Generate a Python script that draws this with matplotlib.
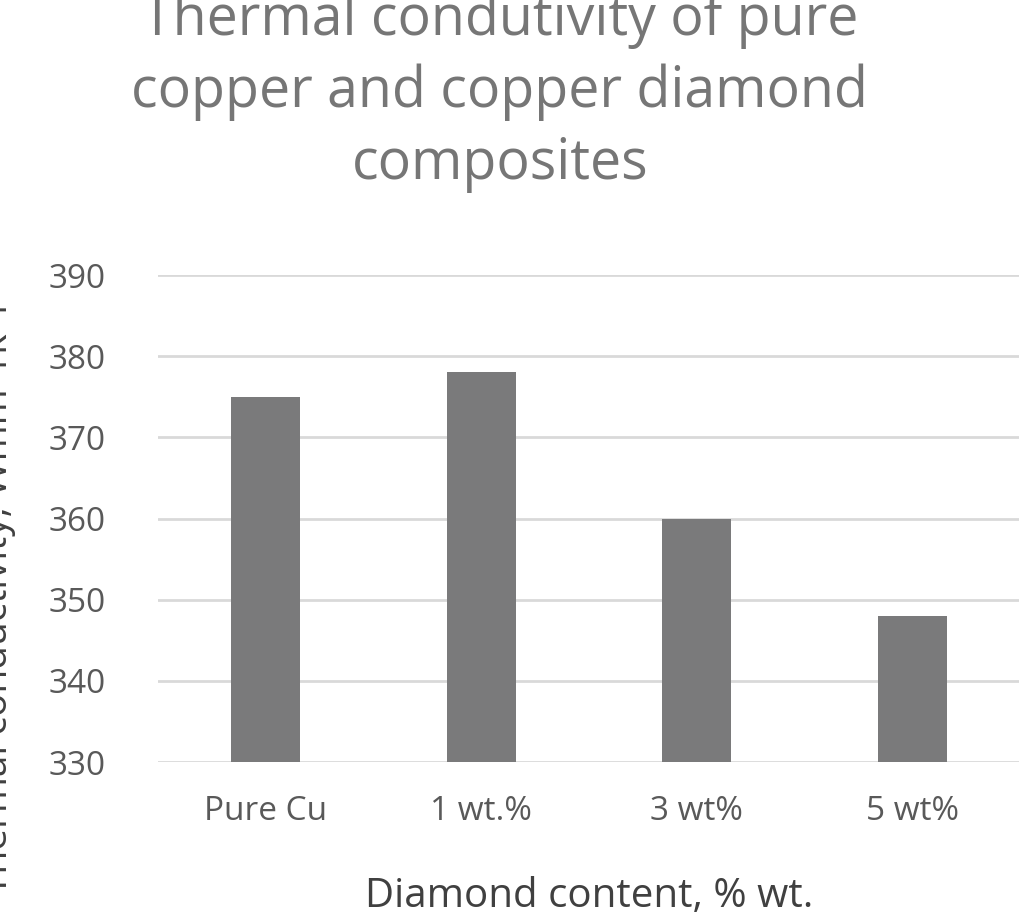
import matplotlib
matplotlib.use("Agg")
import matplotlib.pyplot as plt

categories = ["Pure Cu", "1 wt.%", "3 wt%", "5 wt%"]
values = [375, 378, 360, 348]
yticks = [330, 340, 350, 360, 370, 380, 390]

plt.rcParams['font.family'] = ['Open Sans', 'DejaVu Sans']
fig = plt.figure(figsize=(10.2, 9.17), dpi=100)
ax = fig.add_axes([0.155, 0.169, 0.845, 0.531])
x = range(len(categories))
ax.bar(x, values, width=0.32, color="#7a7a7b", zorder=3)
ax.set_xlim(-0.5, 3.5)
ax.set_ylim(330, 390)
ax.set_yticks(yticks)
ax.set_xticks(list(x))
ax.set_xticklabels(categories)
ax.grid(axis='y', color="#d9d9d9", linewidth=2, zorder=0)
for s in ax.spines.values():
    s.set_visible(False)
ax.tick_params(length=0, labelsize=24, colors="#595959")
ax.tick_params(axis='x', pad=24)
ax.tick_params(axis='y', pad=38)
ax.set_xlabel("Diamond content, % wt.", fontsize=29, color="#404040")
ax.xaxis.set_label_coords(0.5, -0.235)
ax.set_ylabel("Thermal conductivity, Wmm-1k-1", fontsize=28, color="#404040")
ax.yaxis.set_label_coords(-0.165, 0.34)
fig.text(0.49, 1.01, "Thermal condutivity of pure\ncopper and copper diamond\ncomposites",
         ha="center", va="top", fontsize=40, color="#767676", linespacing=1.35)
fig.savefig("out.png", dpi=100)
